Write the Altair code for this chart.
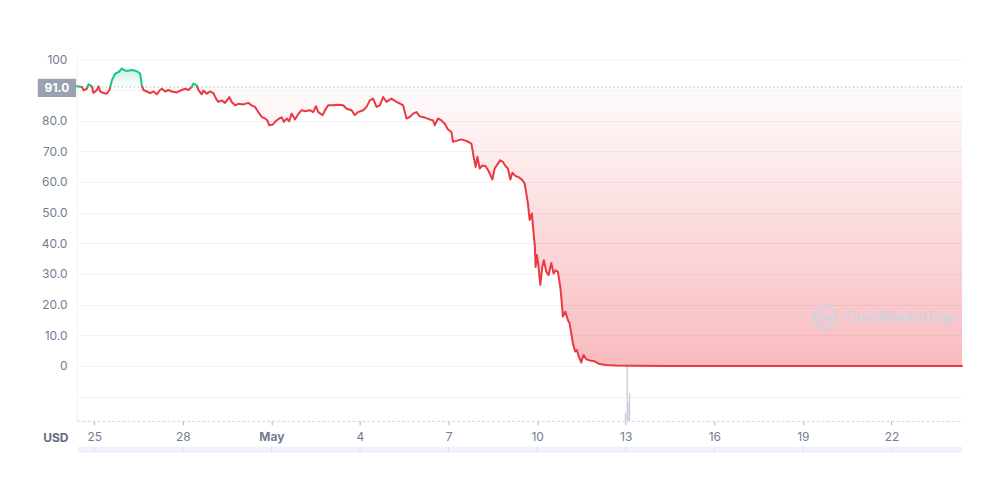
import altair as alt
import pandas as pd

# ---------------- data ----------------
BASE = 91.0
START = "2022-04-24"          # day offsets below are days since this date

day_offsets = [
    0.415, 0.584, 0.638, 0.753, 0.807, 0.922, 0.976, 1.091, 1.145, 1.203,
    1.315, 1.430, 1.517, 1.599, 1.710, 1.822, 1.937, 2.048, 2.160, 2.275,
    2.387, 2.498, 2.556, 2.613, 2.667, 2.782, 2.894, 3.006, 3.121, 3.232,
    3.290, 3.401, 3.513, 3.628, 3.797, 3.966, 4.078, 4.189, 4.304, 4.358,
    4.473, 4.527, 4.642, 4.697, 4.811, 4.923, 5.035, 5.126, 5.204, 5.319,
    5.430, 5.576, 5.657, 5.769, 5.880, 6.049, 6.218, 6.333, 6.445, 6.557,
    6.672, 6.783, 6.861, 6.929, 7.044, 7.155, 7.267, 7.348, 7.426, 7.517,
    7.605, 7.686, 7.798, 7.909, 8.024, 8.136, 8.305, 8.417, 8.508, 8.586,
    8.735, 8.846, 8.924, 9.093, 9.262, 9.431, 9.546, 9.715, 9.827, 9.939,
    10.108, 10.223, 10.334, 10.446, 10.561, 10.673, 10.785, 10.899, 11.068, 11.237,
    11.349, 11.460, 11.575, 11.687, 11.799, 11.914, 12.025, 12.194, 12.364, 12.475,
    12.533, 12.644, 12.759, 12.871, 12.982, 13.097, 13.151, 13.266, 13.435, 13.604,
    13.774, 13.851, 13.919, 13.977, 14.055, 14.146, 14.258, 14.369, 14.484, 14.562,
    14.674, 14.755, 14.843, 14.934, 15.012, 15.093, 15.161, 15.272, 15.384, 15.499,
    15.576, 15.634, 15.688, 15.746, 15.823, 15.881, 15.925, 15.948, 15.993, 16.040,
    16.108, 16.175, 16.229, 16.310, 16.388, 16.480, 16.557, 16.625, 16.703, 16.784,
    16.838, 16.872, 16.953, 17.041, 17.098, 17.156, 17.210, 17.291, 17.345, 17.413,
    17.494, 17.572, 17.663, 17.775, 17.944, 18.113, 18.340, 18.678, 19.239, 20.500,
    22.000, 24.000, 26.000, 28.000, 30.390,
]
prices = [
    91.2, 91.0, 89.9, 90.4, 91.9, 91.2, 89.0, 90.0, 91.2, 89.5,
    89.0, 88.8, 90.0, 93.2, 95.3, 95.8, 97.0, 96.3, 96.3, 96.5,
    96.3, 95.8, 95.3, 91.5, 90.0, 89.5, 89.0, 89.5, 88.6, 90.0,
    90.4, 89.5, 90.0, 89.5, 89.2, 90.0, 90.4, 90.0, 91.0, 92.1,
    91.5, 90.0, 88.6, 89.8, 88.8, 89.5, 89.0, 87.2, 86.1, 86.6,
    85.8, 87.7, 86.1, 85.0, 85.5, 85.3, 85.8, 85.0, 84.5, 82.8,
    81.2, 80.7, 80.1, 78.5, 78.7, 79.9, 80.7, 81.1, 79.6, 80.7,
    79.8, 82.3, 80.4, 82.1, 83.4, 83.1, 83.4, 82.8, 84.7, 82.8,
    81.8, 83.9, 85.0, 85.0, 85.2, 85.0, 83.9, 83.4, 81.8, 82.8,
    83.4, 84.5, 86.6, 87.2, 84.5, 85.0, 87.7, 86.1, 87.2, 86.1,
    85.6, 85.0, 80.7, 81.2, 82.3, 82.8, 81.4, 81.0, 80.4, 80.1,
    78.5, 80.7, 80.1, 79.0, 77.1, 76.3, 73.1, 73.4, 73.9, 73.4,
    72.5, 68.2, 64.9, 68.2, 64.4, 65.4, 65.1, 63.3, 60.8, 64.4,
    66.0, 67.1, 66.5, 65.1, 64.4, 60.8, 63.0, 61.9, 61.5, 60.6,
    59.5, 56.2, 53.0, 47.6, 49.7, 43.2, 38.9, 32.3, 36.2, 33.0,
    26.4, 32.3, 34.5, 30.7, 29.6, 33.6, 30.1, 31.2, 30.7, 25.8,
    20.4, 16.1, 17.7, 15.0, 13.9, 10.6, 7.4, 4.7, 5.2, 3.0,
    1.1, 3.6, 2.2, 1.8, 1.5, 0.6, 0.3, 0.15, 0.05, 0.01,
    0.005, 0.002, 0.001, 0.001, 0.001,
]

# trading volume spike (only bars tall enough to see)
volume_days = [18.99, 19.05, 19.08, 19.13]
volumes = [1.4, 9.6, 3.3, 4.8]

tick_dates = [(2022, 4, 25), (2022, 4, 28), (2022, 5, 1), (2022, 5, 4), (2022, 5, 7),
              (2022, 5, 10), (2022, 5, 13), (2022, 5, 16), (2022, 5, 19), (2022, 5, 22)]
y_ticks = [-10, 0, 10, 20, 30, 40, 50, 60, 70, 80, 90, 100]
watermark = ["CoinMarketCap"]

RED = "#ea3943"
GREEN = "#16c784"
LABEL = "#737d92"
WM = "#cdd4e2"

# ---------------- helpers ----------------
start = pd.Timestamp(START)


def ts(d):
    return (start + pd.to_timedelta(d, unit="D")).strftime("%Y-%m-%dT%H:%M:%S")


# insert baseline crossings so the colours switch exactly at 91.0
pts = []
for i, (d, v) in enumerate(zip(day_offsets, prices)):
    if i > 0:
        d0, v0 = day_offsets[i - 1], prices[i - 1]
        if (v0 - BASE) * (v - BASE) < 0:
            dc = d0 + (BASE - v0) / (v - v0) * (d - d0)
            pts.append((dc, BASE))
    pts.append((d, v))

area_df = pd.DataFrame({
    "t": [ts(d) for d, _ in pts],
    "lo": [min(v, BASE) for _, v in pts],
    "hi": [max(v, BASE) for _, v in pts],
    "base": BASE,
})

segments = []
cur, cur_kind = [], None
for d, v in pts:
    k = "up" if v > BASE else ("down" if v < BASE else None)
    if k is None:
        cur.append((d, v))
        if cur_kind is not None:
            segments.append((cur_kind, cur))
        cur, cur_kind = [(d, v)], None
    else:
        if cur_kind is None:
            cur_kind = k
        cur.append((d, v))
if cur_kind is not None:
    segments.append((cur_kind, cur))

rows = []
for si, (kind, seg) in enumerate(segments):
    for d, v in seg:
        rows.append({"t": ts(d), "v": v, "seg": si, "kind": kind})
line_df = pd.DataFrame(rows)

vol_df = pd.DataFrame({"t": [ts(d) for d in volume_days], "vol": volumes})
base_df = pd.DataFrame({"base": [BASE], "label": [f"{BASE:.1f}"]})
wm_df = pd.DataFrame({"label": watermark})
tick_df = pd.DataFrame({"t": [f"{y}-{m:02d}-{d:02d}T00:00:00" for y, m, d in tick_dates]})

W, H = 886, 368

x_scale = alt.Scale(domain=[ts(day_offsets[0]), ts(day_offsets[-1])], nice=False)
x_axis = alt.Axis(
    values=[alt.DateTime(year=y, month=m, date=d) for y, m, d in tick_dates],
    labelExpr="date(datum.value) == 1 ? timeFormat(datum.value, '%b') : timeFormat(datum.value, '%-d')",
    labelFontWeight={"condition": {"test": "date(datum.value) == 1", "value": "bold"}, "value": "normal"},
    title=None, grid=False, domainColor="#cfd6e4", domainDash=[3, 2], domainWidth=1,
    tickColor="#a6b0c3", tickSize=4, labelPadding=7, labelFontSize=12, labelColor=LABEL,
    labelFont="Inter",
)
x_enc = alt.X("t:T", scale=x_scale, axis=x_axis)

y_scale = alt.Scale(domain=[-17.9, 102], nice=False, zero=False)
y_axis = alt.Axis(
    values=y_ticks,
    labelExpr="datum.value < 0 || datum.value == 90 ? '' : datum.value == 0 ? '0' : datum.value == 100 ? '100' : format(datum.value, '.1f')",
    grid=True, gridColor="#eff2f5", domainColor="#eff2f5", ticks=False,
    labelPadding=10, labelFontSize=12, labelColor=LABEL, labelFont="Inter",
    title="USD", titleAngle=0, titleAlign="right", titleBaseline="middle",
    titleX=-9, titleY=H + 17, titleFontSize=12, titleFontWeight="bold",
    titleColor="#616c82", titleFont="Inter",
)

red_grad = alt.Gradient(
    gradient="linear",
    stops=[alt.GradientStop(color="rgba(234,57,67,0.02)", offset=0),
           alt.GradientStop(color="rgba(234,57,67,0.34)", offset=1)],
    x1=1, x2=1, y1=0, y2=1,
)
green_grad = alt.Gradient(
    gradient="linear",
    stops=[alt.GradientStop(color="rgba(22,199,132,0.22)", offset=0),
           alt.GradientStop(color="rgba(22,199,132,0.02)", offset=1)],
    x1=1, x2=1, y1=0, y2=1,
)

red_area = alt.Chart(area_df).mark_area(color=red_grad, interpolate="linear").encode(
    x=x_enc, y=alt.Y("lo:Q", scale=y_scale, axis=y_axis), y2="base:Q"
)
green_area = alt.Chart(area_df).mark_area(color=green_grad, interpolate="linear").encode(
    x=x_enc, y=alt.Y("hi:Q", scale=y_scale, axis=y_axis), y2="base:Q"
)
base_rule = alt.Chart(base_df).mark_rule(color="#8f97a8", strokeDash=[1, 3], strokeWidth=1).encode(
    y=alt.Y("base:Q", scale=y_scale, axis=y_axis)
)
lines = alt.Chart(line_df).mark_line(strokeWidth=2, strokeJoin="round", strokeCap="round").encode(
    x=x_enc,
    y=alt.Y("v:Q", scale=y_scale, axis=y_axis),
    detail="seg:N",
    color=alt.Color("kind:N", scale=alt.Scale(domain=["up", "down"], range=[GREEN, RED]), legend=None),
)
label_box = alt.Chart(base_df).mark_point(
    shape="M-1,-0.48L1,-0.48L1,0.48L-1,0.48Z", size=1467, filled=True, opacity=1,
    color="#9aa1b1", strokeWidth=0, yOffset=1,
).encode(x=alt.value(-20), y=alt.Y("base:Q", scale=y_scale, axis=y_axis))
label_text = alt.Chart(base_df).mark_text(
    color="white", fontWeight="bold", fontSize=12, font="Inter", align="center",
    baseline="middle", yOffset=1,
).encode(x=alt.value(-20), y=alt.Y("base:Q", scale=y_scale, axis=y_axis), text="label:N")

# watermark logo: open ring with an "M" wave inside
wm_logo = alt.Chart(wm_df).mark_point(
    shape="M0.5,0.87A1,1,0,1,1,0.94,0.34M-0.62,0.35L-0.32,-0.32L0,0.22L0.3,-0.32L0.5,0.4L0.78,0.45",
    size=480, filled=False, strokeWidth=2.6, color=WM, opacity=0.9,
    strokeJoin="round", strokeCap="round",
).encode(x=alt.value(749), y=alt.value(265))
wm_text = alt.Chart(wm_df).mark_text(
    fontSize=14.5, fontWeight="bold", font="Inter", color=WM, opacity=0.9,
    align="left", baseline="middle",
).encode(x=alt.value(769), y=alt.value(265), text="label:N")

nav_band = alt.Chart(wm_df).mark_rect(color="#eef2fc").encode(
    x=alt.value(1), x2=alt.value(W), y=alt.value(H + 26), y2=alt.value(H + 32)
)
nav_ticks = alt.Chart(tick_df).mark_rule(color="#dde3f1", strokeWidth=1).encode(
    x=x_enc, y=alt.value(H + 26), y2=alt.value(H + 32)
)

price_layer = alt.layer(
    red_area, green_area, base_rule, lines, label_box, label_text,
    wm_logo, wm_text, nav_band, nav_ticks,
)

volume = alt.Chart(vol_df).mark_rule(color="#c6cddb", strokeWidth=1.3).encode(
    x=x_enc,
    y=alt.Y("vol:Q", scale=alt.Scale(domain=[0, 63.1], nice=False), axis=None),
    y2=alt.datum(0),
)

chart = alt.layer(volume, price_layer).resolve_scale(y="independent").properties(
    width=W, height=H,
    autosize=alt.AutoSizeParams(type="none"),
    padding={"left": 69, "top": 45, "right": 30, "bottom": 60},
    background="white",
).configure_view(stroke=None)

chart.save("out.html", embed_options={"renderer": "svg", "actions": False})
